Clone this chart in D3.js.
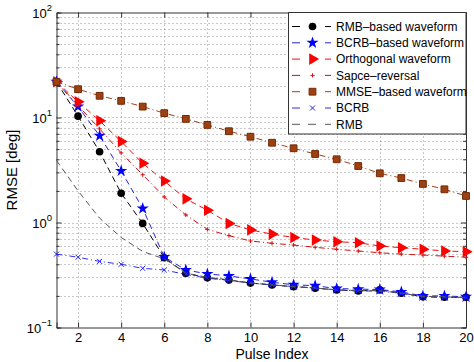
<!DOCTYPE html>
<head>
  <meta charset="utf-8">
  <title>RMSE vs pulse index</title>
  <script src="https://cdn.jsdelivr.net/npm/d3@7"></script>
  <style>
    body { margin: 0; background: #fff; }
    text { font-family: "Liberation Sans", Arial, sans-serif; }
  </style>
</head>
<body>
<script>
  var WIDTH = 474, HEIGHT = 362;
  var M = {left: 56.5, right: 466, top: 12.5, bottom: 327.5};

  // data
  var pulse = [1,2,3,4,5,6,7,8,9,10,11,12,13,14,15,16,17,18,19,20];
  var rmbWave  = [21.9,10.3,4.72,1.90,0.98,0.462,0.328,0.297,0.283,0.265,0.254,0.245,0.237,0.228,0.223,0.228,0.212,0.196,0.194,0.194];
  var bcrbWave = [21.9,12.7,6.7,3.1,1.36,0.47,0.353,0.324,0.31,0.29,0.27,0.255,0.25,0.235,0.232,0.23,0.218,0.2,0.2,0.196];
  var orthWave = [21.9,14.1,9.3,5.9,3.66,2.48,1.68,1.31,0.98,0.85,0.775,0.72,0.68,0.656,0.642,0.597,0.575,0.556,0.536,0.527];
  var spaceRev = [21.9,13.0,7.8,4.6,2.85,1.75,1.18,0.86,0.75,0.667,0.634,0.61,0.58,0.556,0.535,0.515,0.50,0.49,0.478,0.467];
  var mmseWave = [21.9,18.6,16.1,14.4,12.7,11.0,9.7,8.5,7.4,6.56,5.75,5.09,4.49,4.0,3.45,2.94,2.65,2.33,2.07,1.79];
  var bcrb     = [0.50,0.467,0.426,0.40,0.366,0.353,0.32,0.295,0.28,0.265,0.255,0.245,0.238,0.228,0.223,0.222,0.212,0.198,0.195,0.193];
  var rmb      = [3.9,2.0,1.1,0.72,0.53,0.45,0.33,0.30,0.285,0.265,0.255,0.245,0.238,0.228,0.225,0.224,0.212,0.198,0.196,0.193];

  var names = ["RMB\u2013based waveform","BCRB\u2013based waveform","Orthogonal waveform",
               "Sapce\u2013reversal","MMSE\u2013based waveform","BCRB","RMB"];
  var xTicks = [2,4,6,8,10,12,14,16,18,20];
  var yDecades = [0.1,1,10,100];
  var yExp = ["\u22121","0","1","2"];

  var series = [
    {name: names[0], values: rmbWave,  color: "#000",    fill: "#000",    dash: "6,4",     sym: d3.symbolCircle,   size: 46},
    {name: names[1], values: bcrbWave, color: "#2222e0", fill: "#0000ff", dash: "6,4",     sym: d3.symbolStar,     size: 46},
    {name: names[2], values: orthWave, color: "#ee1111", fill: "#ff0000", dash: "6,4",     sym: d3.symbolTriangle, size: 58, rot: 90},
    {name: names[3], values: spaceRev, color: "#cc1111", fill: "none",    dash: "6,3,1,3", sym: d3.symbolPlus,     size: 7,  stroke: "#dd1111"},
    {name: names[4], values: mmseWave, color: "#a0401a", fill: "#a0400f", dash: "6,3,1,3", sym: d3.symbolSquare,   size: 46, stroke: "#6e2a08"},
    {name: names[5], values: bcrb,     color: "#3030e8", fill: "none",    dash: "6,3,1,3", sym: d3.symbolTimes,    size: 18, stroke: "#2020ff"},
    {name: names[6], values: rmb,      color: "#555",    fill: "none",    dash: "6,4",     sym: null}
  ];

  var svg = d3.select("body").append("svg")
              .attr("width", WIDTH)
              .attr("height", HEIGHT);

  var x = d3.scaleLinear().domain([1, 20]).range([M.left, M.right]);
  var y = d3.scaleLog().domain([0.1, 100]).range([M.bottom, M.top]);

  // all y ticks incl. minor ones
  var yAll = [];
  yDecades.slice(0, 3).forEach(function(d){
    for (var k = 1; k < 10; k++) yAll.push(d * k);
  });
  yAll.push(100);

  //grid
  var grid = svg.append("g").attr("stroke", "#777").attr("stroke-width", 0.8)
                .attr("stroke-dasharray", "1,3");
  grid.selectAll(".gx").data(xTicks.slice(0, -1)).enter().append("line")
      .attr("x1", function(d){ return Math.round(x(d)) + 0.5; })
      .attr("x2", function(d){ return Math.round(x(d)) + 0.5; })
      .attr("y1", M.top).attr("y2", M.bottom);
  grid.selectAll(".gy").data(yAll.slice(1, -1)).enter().append("line")
      .attr("y1", function(d){ return Math.round(y(d)) + 0.5; })
      .attr("y2", function(d){ return Math.round(y(d)) + 0.5; })
      .attr("x1", M.left).attr("x2", M.right);

  // axes with inward ticks, box on
  var axB = d3.axisBottom(x).tickValues(xTicks).tickSize(-5).tickPadding(5).tickFormat(d3.format("d"));
  var axT = d3.axisTop(x).tickValues(xTicks).tickSize(-5).tickFormat("");
  var axL = d3.axisLeft(y).tickValues(yAll).tickSize(-3).tickFormat("");
  var axR = d3.axisRight(y).tickValues(yAll).tickSize(-3).tickFormat("");

  function style(g){
    g.select(".domain").attr("stroke", "#333");
    g.selectAll(".tick line").attr("stroke", "#333");
    g.selectAll(".tick text").attr("fill", "#000").attr("font-size", 13)
     .attr("font-family", "Liberation Sans, Arial, sans-serif");
  }
  svg.append("g").attr("transform", "translate(0," + M.bottom + ")").call(axB).call(style);
  svg.append("g").attr("transform", "translate(0," + M.top + ")").call(axT).call(style);
  svg.append("g").attr("transform", "translate(" + M.left + ",0)").call(axL).call(style)
     .selectAll(".tick").filter(function(d){ return yDecades.indexOf(d) >= 0; })
     .select("line").attr("x2", 5);
  svg.append("g").attr("transform", "translate(" + M.right + ",0)").call(axR).call(style)
     .selectAll(".tick").filter(function(d){ return yDecades.indexOf(d) >= 0; })
     .select("line").attr("x2", -5);

  // y tick labels 10^n
  var yl = svg.selectAll(".ylab").data(yDecades).enter().append("text")
              .attr("x", 52)
              .attr("y", function(d){ return y(d) + 5; })
              .attr("text-anchor", "end")
              .attr("font-size", 13)
              .text("10");
  yl.append("tspan").attr("dy", -7).attr("font-size", 9.5)
    .text(function(d, i){ return yExp[i]; });

  svg.append("text").attr("x", 272).attr("y", 359).attr("text-anchor", "middle")
     .attr("font-size", 14).text("Pulse Index");
  svg.append("text").attr("transform", "translate(17," + ((M.top + M.bottom) / 2) + ") rotate(-90)")
     .attr("text-anchor", "middle").attr("font-size", 15).text("RMSE [deg]");

  //lines and markers
  var line = d3.line()
               .x(function(d){ return x(d[0]); })
               .y(function(d){ return y(d[1]); });

  var plot = svg.append("g");
  series.forEach(function(s){
    var pts = pulse.map(function(p, i){ return [p, s.values[i]]; });
    plot.append("path").datum(pts)
        .attr("d", line)
        .attr("fill", "none")
        .attr("stroke", s.color)
        .attr("stroke-width", 1)
        .attr("stroke-dasharray", s.dash);
    if (s.sym) {
      plot.selectAll(null).data(pts).enter().append("path")
          .attr("d", d3.symbol().type(s.sym).size(s.size))
          .attr("transform", function(d){
            return "translate(" + x(d[0]) + "," + y(d[1]) + ")" + (s.rot ? " rotate(" + s.rot + ")" : "");
          })
          .attr("fill", s.fill)
          .attr("stroke", s.stroke || "none")
          .attr("stroke-width", 1);
    }
  });

  // legend
  var lg = svg.append("g");
  lg.append("rect").attr("x", 288.5).attr("y", M.top).attr("width", M.right - 288.5).attr("height", 121.5)
    .attr("fill", "#fff").attr("stroke", "#333").attr("stroke-width", 1);
  series.forEach(function(s, i){
    var ly = 26.5 + i * 16.3;
    var row = lg.append("g");
    var segs = s.sym ? [[292, 300], [325, 331]] : [[292, 300], [308, 316], [325, 331]];
    segs.forEach(function(sg){
      row.append("line").attr("x1", sg[0]).attr("x2", sg[1]).attr("y1", ly).attr("y2", ly)
         .attr("stroke", s.color).attr("stroke-width", 1);
    });
    if (s.sym) {
      row.append("path")
         .attr("d", d3.symbol().type(s.sym).size(s.size))
         .attr("transform", "translate(312.5," + ly + ")" + (s.rot ? " rotate(" + s.rot + ")" : ""))
         .attr("fill", s.fill)
         .attr("stroke", s.stroke || "none");
    }
    row.append("text").attr("x", 336).attr("y", ly + 4.3).attr("font-size", 12).text(s.name);
  });
</script>
</body>
